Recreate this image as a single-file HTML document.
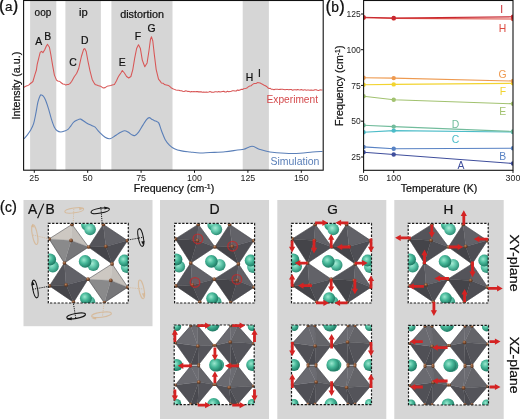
<!DOCTYPE html><html><head><meta charset="utf-8"><style>html,body{margin:0;padding:0;background:#fff;overflow:hidden;}svg{display:block;}text{font-family:"Liberation Sans",sans-serif;}.k{stroke:#111;stroke-width:0.22px;}</style></head><body>
<svg width="520" height="419" viewBox="0 0 520 419">
<defs>
<radialGradient id="cs" cx="0.4" cy="0.38" r="0.65"><stop offset="0" stop-color="#9be8cf"/><stop offset="0.45" stop-color="#48b99a"/><stop offset="1" stop-color="#1b7660"/></radialGradient>
<radialGradient id="cs2" cx="0.4" cy="0.38" r="0.65"><stop offset="0" stop-color="#a8ecd6"/><stop offset="0.5" stop-color="#5cc4a8"/><stop offset="1" stop-color="#2a8a72"/></radialGradient>
<radialGradient id="iat" cx="0.4" cy="0.35" r="0.7"><stop offset="0" stop-color="#c08a66"/><stop offset="0.5" stop-color="#7e4e30"/><stop offset="1" stop-color="#4a2a18"/></radialGradient>
<marker id="ah" viewBox="0 0 10 10" refX="3" refY="5" markerWidth="2.2" markerHeight="2.2" orient="auto-start-reverse"><path d="M0,0 L10,5 L0,10 z" fill="#d42020"/></marker>
</defs>
<rect x="30.1" y="0.5" width="26.2" height="169.7" fill="#d6d6d6"/>
<rect x="65.4" y="0.5" width="35.5" height="169.7" fill="#d6d6d6"/>
<rect x="111.4" y="0.5" width="61.1" height="169.7" fill="#d6d6d6"/>
<rect x="242.7" y="0.5" width="26.2" height="169.7" fill="#d6d6d6"/>
<path d="M24.00,87.30 L25.53,86.33 L27.07,85.87 L28.60,85.10 L30.03,83.78 L31.47,82.79 L32.90,81.50 L35.00,74.40 L36.40,70.00 L37.20,64.40 L39.30,55.80 L40.20,52.30 L41.50,51.30 L42.90,52.60 L44.60,50.00 L46.50,45.70 L47.60,44.20 L47.90,45.00 L49.40,47.20 L50.80,54.30 L52.70,65.80 L54.40,75.10 L56.50,80.10 L57.75,80.94 L59.00,81.16 L60.25,81.84 L61.50,83.00 L62.93,84.00 L64.37,84.18 L65.80,85.10 L67.25,84.51 L68.70,84.40 L70.15,83.40 L71.60,81.50 L73.00,78.97 L74.40,76.50 L76.60,73.50 L78.70,68.50 L79.30,65.80 L81.40,56.50 L83.60,49.30 L84.70,48.60 L86.20,51.50 L87.90,60.80 L90.00,70.80 L92.20,79.40 L93.65,82.20 L95.10,84.40 L96.53,84.88 L97.97,85.53 L99.40,85.90 L100.83,86.29 L102.27,87.42 L103.70,88.00 L105.13,87.63 L106.57,86.62 L108.00,85.90 L109.40,85.85 L110.80,85.52 L112.20,85.10 L114.40,84.40 L116.50,80.80 L117.95,77.56 L119.40,75.10 L120.85,73.03 L122.30,70.50 L124.40,73.00 L126.60,76.50 L128.70,78.00 L130.90,76.50 L132.80,69.60 L134.70,58.20 L136.60,48.60 L138.50,44.80 L140.40,48.60 L142.30,60.10 L143.55,63.53 L144.80,66.80 L147.10,62.90 L149.00,50.50 L150.50,39.10 L151.50,36.80 L152.80,41.00 L154.30,54.40 L156.20,69.60 L158.50,79.20 L159.95,80.92 L161.40,83.00 L163.00,83.21 L164.60,84.60 L166.20,84.90 L167.60,85.33 L169.00,85.80 L170.27,86.96 L171.53,88.07 L172.80,88.70 L174.40,89.39 L176.00,90.08 L177.60,90.20 L178.89,90.28 L180.18,90.82 L181.46,90.68 L182.75,91.29 L184.04,91.42 L185.32,90.89 L186.61,91.10 L187.90,91.60 L189.11,91.37 L190.32,92.06 L191.53,91.60 L192.74,91.79 L193.95,91.52 L195.16,91.73 L196.37,91.64 L197.58,91.63 L198.79,91.86 L200.00,91.80 L201.25,91.88 L202.50,92.16 L203.75,91.96 L205.00,92.19 L206.25,92.12 L207.50,92.24 L208.75,91.95 L210.00,91.50 L211.25,92.12 L212.50,92.22 L213.75,92.16 L215.00,91.80 L216.25,91.84 L217.50,91.94 L218.75,91.47 L220.00,92.00 L221.25,91.74 L222.50,91.46 L223.75,91.23 L225.00,91.92 L226.25,92.02 L227.50,91.18 L228.75,91.80 L230.00,91.50 L231.25,91.24 L232.50,90.84 L233.75,90.79 L235.00,91.04 L236.25,90.96 L237.50,90.04 L238.75,90.38 L240.00,90.10 L241.22,89.29 L242.45,89.50 L243.68,88.75 L244.90,88.50 L246.12,88.22 L247.35,87.68 L248.58,86.63 L249.80,86.00 L251.03,85.85 L252.25,84.63 L253.47,83.82 L254.70,83.60 L256.07,83.42 L257.43,82.64 L258.80,82.80 L260.17,83.06 L261.53,83.78 L262.90,84.40 L264.12,85.32 L265.35,85.74 L266.57,86.46 L267.80,87.70 L269.02,88.43 L270.25,88.33 L271.48,89.31 L272.70,89.30 L273.93,89.66 L275.15,89.19 L276.38,89.26 L277.60,89.32 L278.82,89.43 L280.05,89.39 L281.27,89.35 L282.50,89.30 L283.77,89.46 L285.03,89.81 L286.30,89.47 L287.57,89.46 L288.83,89.78 L290.10,89.40 L291.37,89.51 L292.63,90.17 L293.90,89.80 L295.12,89.84 L296.35,89.89 L297.57,89.44 L298.80,89.82 L300.02,90.00 L301.25,89.52 L302.48,90.08 L303.70,90.12 L304.93,89.63 L306.15,90.16 L307.38,90.04 L308.60,90.10 L309.86,90.26 L311.13,89.97 L312.39,90.29 L313.65,90.31 L314.92,89.67 L316.18,89.70 L317.45,90.26 L318.71,90.52 L319.97,89.88 L321.24,90.06 L322.50,90.10" fill="none" stroke="#d85656" stroke-width="1.05" stroke-linejoin="round"/>
<path d="M24.00,138.70 C24.53,138.10 26.08,136.53 27.20,135.10 C28.32,133.67 29.63,132.00 30.70,130.10 C31.77,128.20 32.75,126.43 33.60,123.70 C34.45,120.97 35.08,117.28 35.80,113.70 C36.52,110.12 37.18,105.20 37.90,102.20 C38.62,99.20 39.50,96.90 40.10,95.70 C40.70,94.50 40.92,94.87 41.50,95.00 C42.08,95.13 42.88,95.53 43.60,96.50 C44.32,97.47 44.95,98.65 45.80,100.80 C46.65,102.95 47.75,106.30 48.70,109.40 C49.65,112.50 50.55,116.42 51.50,119.40 C52.45,122.38 53.45,125.40 54.40,127.30 C55.35,129.20 56.13,130.02 57.20,130.80 C58.27,131.58 59.60,131.95 60.80,132.00 C62.00,132.05 63.20,131.53 64.40,131.10 C65.60,130.67 66.92,130.28 68.00,129.40 C69.08,128.52 69.95,127.00 70.90,125.80 C71.85,124.60 72.63,123.15 73.70,122.20 C74.77,121.25 76.13,120.62 77.30,120.10 C78.47,119.58 79.17,118.63 80.70,119.10 C82.23,119.57 84.58,121.78 86.50,122.90 C88.42,124.02 90.77,125.08 92.20,125.80 C93.63,126.52 93.90,126.13 95.10,127.20 C96.30,128.27 97.73,130.52 99.40,132.20 C101.07,133.88 103.32,136.22 105.10,137.30 C106.88,138.38 108.43,138.95 110.10,138.70 C111.77,138.45 113.43,136.83 115.10,135.80 C116.77,134.77 118.55,133.33 120.10,132.50 C121.65,131.67 123.08,130.88 124.40,130.80 C125.72,130.72 126.68,131.28 128.00,132.00 C129.32,132.72 131.13,134.53 132.30,135.10 C133.47,135.67 133.95,135.88 135.00,135.40 C136.05,134.92 137.28,133.92 138.60,132.20 C139.92,130.48 141.58,127.20 142.90,125.10 C144.22,123.00 145.43,120.85 146.50,119.60 C147.57,118.35 148.35,117.60 149.30,117.60 C150.25,117.60 151.12,119.02 152.20,119.60 C153.28,120.18 154.72,120.55 155.80,121.10 C156.88,121.65 157.75,121.28 158.70,122.90 C159.65,124.52 160.43,128.05 161.50,130.80 C162.57,133.55 163.78,137.02 165.10,139.40 C166.42,141.78 167.85,143.55 169.40,145.10 C170.95,146.65 172.37,147.73 174.40,148.70 C176.43,149.67 178.97,150.35 181.60,150.90 C184.23,151.45 187.13,151.65 190.20,152.00 C193.27,152.35 196.70,152.92 200.00,153.00 C203.30,153.08 205.83,152.70 210.00,152.50 C214.17,152.30 220.42,152.22 225.00,151.80 C229.58,151.38 234.37,150.42 237.50,150.00 C240.63,149.58 241.38,149.92 243.80,149.30 C246.22,148.68 249.30,146.27 252.00,146.30 C254.70,146.33 257.00,148.55 260.00,149.50 C263.00,150.45 265.83,151.37 270.00,152.00 C274.17,152.63 280.00,153.08 285.00,153.30 C290.00,153.52 295.42,153.52 300.00,153.30 C304.58,153.08 308.75,152.30 312.50,152.00 C316.25,151.70 320.83,151.58 322.50,151.50" fill="none" stroke="#5a7fb8" stroke-width="1.1" stroke-linejoin="round"/>
<rect x="23.60" y="0.50" width="299.60" height="169.70" fill="none" stroke="#111" stroke-width="1.1"/>
<line x1="34.3" y1="170.2" x2="34.3" y2="172.8" stroke="#111" stroke-width="1"/>
<text x="34.3" y="180.5" font-size="9.8" text-anchor="middle" textLength="9.86" lengthAdjust="spacingAndGlyphs" fill="#222">25</text>
<line x1="87.7" y1="170.2" x2="87.7" y2="172.8" stroke="#111" stroke-width="1"/>
<text x="87.7" y="180.5" font-size="9.8" text-anchor="middle" textLength="9.86" lengthAdjust="spacingAndGlyphs" fill="#222">50</text>
<line x1="141.1" y1="170.2" x2="141.1" y2="172.8" stroke="#111" stroke-width="1"/>
<text x="141.1" y="180.5" font-size="9.8" text-anchor="middle" textLength="9.86" lengthAdjust="spacingAndGlyphs" fill="#222">75</text>
<line x1="194.5" y1="170.2" x2="194.5" y2="172.8" stroke="#111" stroke-width="1"/>
<text x="194.5" y="180.5" font-size="9.8" text-anchor="middle" textLength="14.79" lengthAdjust="spacingAndGlyphs" fill="#222">100</text>
<line x1="247.9" y1="170.2" x2="247.9" y2="172.8" stroke="#111" stroke-width="1"/>
<text x="247.9" y="180.5" font-size="9.8" text-anchor="middle" textLength="14.79" lengthAdjust="spacingAndGlyphs" fill="#222">125</text>
<line x1="301.3" y1="170.2" x2="301.3" y2="172.8" stroke="#111" stroke-width="1"/>
<text x="301.3" y="180.5" font-size="9.8" text-anchor="middle" textLength="14.79" lengthAdjust="spacingAndGlyphs" fill="#222">150</text>
<text x="133.8" y="192.3" font-size="10.6" fill="#111" class="k">Frequency (cm<tspan dy="-3.8" font-size="7">-1</tspan><tspan dy="3.8">)</tspan></text>
<text transform="translate(19.6,119.4) rotate(-90)" font-size="10.2" textLength="67.6" lengthAdjust="spacingAndGlyphs" fill="#111" class="k">Intensity (a.u.)</text>
<text x="-0.9" y="11.4" font-size="13.4" fill="#111" class="k"><tspan font-size="17.5">(</tspan>a<tspan font-size="17.5">)</tspan></text>
<text x="34.6" y="15.6" font-size="10.8" textLength="16.7" lengthAdjust="spacingAndGlyphs" fill="#111" class="k">oop</text>
<text x="79.0" y="16.4" font-size="10.8" textLength="8.7" lengthAdjust="spacingAndGlyphs" fill="#111" class="k">ip</text>
<text x="120.2" y="18.0" font-size="10.8" textLength="43.8" lengthAdjust="spacingAndGlyphs" fill="#111" class="k">distortion</text>
<text x="38.6" y="44.8" font-size="10.4" text-anchor="middle" fill="#111" class="k">A</text>
<text x="47.8" y="39.5" font-size="10.4" text-anchor="middle" fill="#111" class="k">B</text>
<text x="73.1" y="65.5" font-size="10.4" text-anchor="middle" fill="#111" class="k">C</text>
<text x="84.7" y="43.8" font-size="10.4" text-anchor="middle" fill="#111" class="k">D</text>
<text x="122.3" y="65.8" font-size="10.4" text-anchor="middle" fill="#111" class="k">E</text>
<text x="138.0" y="40.0" font-size="10.4" text-anchor="middle" fill="#111" class="k">F</text>
<text x="151.6" y="32.4" font-size="10.4" text-anchor="middle" fill="#111" class="k">G</text>
<text x="249.5" y="80.9" font-size="10.4" text-anchor="middle" fill="#111" class="k">H</text>
<text x="259.4" y="77.2" font-size="10.4" text-anchor="middle" fill="#111" class="k">I</text>
<text x="266.6" y="103.2" font-size="10.4" textLength="51.4" lengthAdjust="spacingAndGlyphs" fill="#d44a4c">Experiment</text>
<text x="270.4" y="164.8" font-size="10.4" textLength="49" lengthAdjust="spacingAndGlyphs" fill="#5a7fb8">Simulation</text>
<clipPath id="bclip"><rect x="363.60" y="0.50" width="149.40" height="169.80"/></clipPath><g clip-path="url(#bclip)">
<path d="M363.60,152.30 L393.70,154.50 L513.00,163.50" fill="none" stroke="#3f4e9c" stroke-width="1.1"/>
<circle cx="363.6" cy="152.3" r="2.2" fill="#3f4e9c"/>
<circle cx="393.7" cy="154.5" r="2.2" fill="#3f4e9c"/>
<circle cx="513.0" cy="163.5" r="2.2" fill="#3f4e9c"/>
<path d="M363.60,146.90 L393.70,148.80 L513.00,148.30" fill="none" stroke="#5882c4" stroke-width="1.1"/>
<circle cx="363.6" cy="146.9" r="2.2" fill="#5882c4"/>
<circle cx="393.7" cy="148.8" r="2.2" fill="#5882c4"/>
<circle cx="513.0" cy="148.3" r="2.2" fill="#5882c4"/>
<path d="M363.60,132.20 L393.70,130.60 L513.00,132.00" fill="none" stroke="#4cbcc8" stroke-width="1.1"/>
<circle cx="363.6" cy="132.2" r="2.2" fill="#4cbcc8"/>
<circle cx="393.7" cy="130.6" r="2.2" fill="#4cbcc8"/>
<circle cx="513.0" cy="132.0" r="2.2" fill="#4cbcc8"/>
<path d="M363.60,125.20 L393.70,126.60 L513.00,131.50" fill="none" stroke="#72bc9c" stroke-width="1.1"/>
<circle cx="363.6" cy="125.2" r="2.2" fill="#72bc9c"/>
<circle cx="393.7" cy="126.6" r="2.2" fill="#72bc9c"/>
<circle cx="513.0" cy="131.5" r="2.2" fill="#72bc9c"/>
<path d="M363.60,96.30 L393.70,99.70 L513.00,103.80" fill="none" stroke="#a2c270" stroke-width="1.1"/>
<circle cx="363.6" cy="96.3" r="2.2" fill="#a2c270"/>
<circle cx="393.7" cy="99.7" r="2.2" fill="#a2c270"/>
<circle cx="513.0" cy="103.8" r="2.2" fill="#a2c270"/>
<path d="M363.60,84.80 L393.70,84.40 L513.00,83.30" fill="none" stroke="#f2d430" stroke-width="1.1"/>
<circle cx="363.6" cy="84.8" r="2.2" fill="#f2d430"/>
<circle cx="393.7" cy="84.4" r="2.2" fill="#f2d430"/>
<circle cx="513.0" cy="83.3" r="2.2" fill="#f2d430"/>
<path d="M363.60,77.70 L393.70,78.10 L513.00,81.00" fill="none" stroke="#ee9a50" stroke-width="1.1"/>
<circle cx="363.6" cy="77.7" r="2.2" fill="#ee9a50"/>
<circle cx="393.7" cy="78.1" r="2.2" fill="#ee9a50"/>
<circle cx="513.0" cy="81.0" r="2.2" fill="#ee9a50"/>
<path d="M363.60,17.80 L393.70,18.40 L513.00,19.00" fill="none" stroke="#dc4a40" stroke-width="1.1"/>
<circle cx="363.6" cy="17.8" r="2.2" fill="#dc4a40"/>
<circle cx="393.7" cy="18.4" r="2.2" fill="#dc4a40"/>
<circle cx="513.0" cy="19.0" r="2.2" fill="#dc4a40"/>
<path d="M363.60,17.20 L393.70,18.00 L513.00,16.80" fill="none" stroke="#c82830" stroke-width="1.1"/>
<circle cx="363.6" cy="17.2" r="2.2" fill="#c82830"/>
<circle cx="393.7" cy="18.0" r="2.2" fill="#c82830"/>
<circle cx="513.0" cy="16.8" r="2.2" fill="#c82830"/>
</g>
<rect x="363.60" y="0.50" width="149.40" height="169.80" fill="none" stroke="#111" stroke-width="1.1"/>
<line x1="361.0" y1="14.0" x2="363.6" y2="14.0" stroke="#111" stroke-width="1"/>
<text x="360.7" y="17.2" font-size="9.8" text-anchor="end" textLength="14.22" lengthAdjust="spacingAndGlyphs" fill="#222">125</text>
<line x1="361.0" y1="49.7" x2="363.6" y2="49.7" stroke="#111" stroke-width="1"/>
<text x="360.7" y="52.9" font-size="9.8" text-anchor="end" textLength="14.22" lengthAdjust="spacingAndGlyphs" fill="#222">100</text>
<line x1="361.0" y1="85.4" x2="363.6" y2="85.4" stroke="#111" stroke-width="1"/>
<text x="360.7" y="88.6" font-size="9.8" text-anchor="end" textLength="9.48" lengthAdjust="spacingAndGlyphs" fill="#222">75</text>
<line x1="361.0" y1="121.2" x2="363.6" y2="121.2" stroke="#111" stroke-width="1"/>
<text x="360.7" y="124.4" font-size="9.8" text-anchor="end" textLength="9.48" lengthAdjust="spacingAndGlyphs" fill="#222">50</text>
<line x1="361.0" y1="157.0" x2="363.6" y2="157.0" stroke="#111" stroke-width="1"/>
<text x="360.7" y="160.2" font-size="9.8" text-anchor="end" textLength="9.48" lengthAdjust="spacingAndGlyphs" fill="#222">25</text>
<line x1="363.6" y1="170.3" x2="363.6" y2="172.9" stroke="#111" stroke-width="1"/>
<text x="363.6" y="180.5" font-size="9.8" text-anchor="middle" textLength="9.86" lengthAdjust="spacingAndGlyphs" fill="#222">50</text>
<line x1="393.7" y1="170.3" x2="393.7" y2="172.9" stroke="#111" stroke-width="1"/>
<text x="393.7" y="180.5" font-size="9.8" text-anchor="middle" textLength="14.79" lengthAdjust="spacingAndGlyphs" fill="#222">100</text>
<line x1="513.0" y1="170.3" x2="513.0" y2="172.9" stroke="#111" stroke-width="1"/>
<text x="513.0" y="180.5" font-size="9.8" text-anchor="middle" textLength="14.79" lengthAdjust="spacingAndGlyphs" fill="#222">300</text>
<text x="400.7" y="192.3" font-size="10.8" textLength="76.7" lengthAdjust="spacingAndGlyphs" fill="#111" class="k">Temperature (K)</text>
<text transform="translate(343.4,125.9) rotate(-90)" font-size="10.6" fill="#111" class="k">Frequency (cm<tspan dy="-3.8" font-size="7">-1</tspan><tspan dy="3.8">)</tspan></text>
<text x="325.4" y="11.7" font-size="13.8" fill="#111" class="k"><tspan font-size="17.5">(</tspan>b<tspan font-size="17.5">)</tspan></text>
<text x="501.7" y="13.3" font-size="10.4" text-anchor="middle" fill="#c82830">I</text>
<text x="502.6" y="31.7" font-size="10.4" text-anchor="middle" fill="#dc4a40">H</text>
<text x="502.6" y="78.4" font-size="10.4" text-anchor="middle" fill="#ee9a50">G</text>
<text x="503.0" y="95.2" font-size="10.4" text-anchor="middle" fill="#f2d430">F</text>
<text x="502.6" y="114.7" font-size="10.4" text-anchor="middle" fill="#a2c270">E</text>
<text x="455.5" y="128.3" font-size="10.4" text-anchor="middle" fill="#72bc9c">D</text>
<text x="455.5" y="142.6" font-size="10.4" text-anchor="middle" fill="#4cbcc8">C</text>
<text x="502.6" y="160.0" font-size="10.4" text-anchor="middle" fill="#5882c4">B</text>
<text x="461.0" y="168.7" font-size="10.4" text-anchor="middle" fill="#3f4e9c">A</text>
<text x="-0.3" y="211.7" font-size="13.8" fill="#111" class="k"><tspan font-size="15.6">(</tspan>c<tspan font-size="15.6">)</tspan></text>
<rect x="23.5" y="200.0" width="129.0" height="126.2" fill="#d6d6d6"/>
<rect x="160.0" y="200.0" width="109.0" height="219.0" fill="#d6d6d6"/>
<rect x="277.3" y="200.0" width="109.0" height="219.0" fill="#d6d6d6"/>
<rect x="394.3" y="200.0" width="109.4" height="219.0" fill="#d6d6d6"/>
<text x="28.1" y="213.5" font-size="13.8" fill="#111" class="k">A</text><line x1="43.8" y1="203.6" x2="37.6" y2="218.2" stroke="#111" stroke-width="1.15"/><text x="45.4" y="213.5" font-size="13.8" fill="#111" class="k">B</text>
<text x="214.6" y="213.9" font-size="14" text-anchor="middle" fill="#111" class="k">D</text>
<text x="332.5" y="213.9" font-size="13.6" text-anchor="middle" fill="#111" class="k">G</text>
<text x="448.3" y="214.3" font-size="13.6" text-anchor="middle" fill="#111" class="k">H</text>
<text transform="translate(509.6,234.4) rotate(90)" font-size="13.4" textLength="57.2" lengthAdjust="spacingAndGlyphs" fill="#111" class="k">XY-plane</text>
<text transform="translate(509.6,336.7) rotate(90)" font-size="13.4" textLength="56.8" lengthAdjust="spacingAndGlyphs" fill="#111" class="k">XZ-plane</text>
<ellipse cx="74.2" cy="210.4" rx="9.5" ry="2.4" transform="rotate(-8.0 74.2 210.4)" fill="none" stroke="#d6b48e" stroke-width="1.05" opacity="0.80"/><polygon points="79.0,207.6 83.5,208.4 79.5,210.2" fill="#d6b48e" opacity="0.80"/><line x1="73.8" y1="209.0" x2="73.2" y2="223.5" stroke="#d6b48e" stroke-width="1" stroke-dasharray="1.2 1" opacity="0.70"/><ellipse cx="34.8" cy="234.6" rx="2.5" ry="10.0" transform="rotate(-11.0 34.8 234.6)" fill="none" stroke="#d6b48e" stroke-width="1.05" opacity="0.80"/><polygon points="31.5,227.0 32.5,223.8 34.5,227.5" fill="#d6b48e" opacity="0.80"/><line x1="33.0" y1="235.0" x2="48.5" y2="238.8" stroke="#d6b48e" stroke-width="1" stroke-dasharray="1.2 1" opacity="0.70"/><ellipse cx="100.2" cy="210.7" rx="9.3" ry="2.4" transform="rotate(-10.0 100.2 210.7)" fill="none" stroke="#151515" stroke-width="1.05" opacity="1.00"/><polygon points="104.2,206.4 108.8,207.9 104.6,209.6" fill="#151515" opacity="1.00"/><line x1="100.8" y1="207.0" x2="102.3" y2="224.6" stroke="#151515" stroke-width="1" stroke-dasharray="1.2 1" opacity="1.00"/><ellipse cx="140.8" cy="237.5" rx="2.5" ry="9.0" transform="rotate(-11.0 140.8 237.5)" fill="none" stroke="#151515" stroke-width="1.05" opacity="1.00"/><polygon points="141.2,241.5 144.6,241.0 143.4,245.6" fill="#151515" opacity="1.00"/><line x1="128.0" y1="240.0" x2="143.7" y2="237.2" stroke="#151515" stroke-width="1" stroke-dasharray="1.2 1" opacity="1.00"/><ellipse cx="35.2" cy="289.0" rx="2.4" ry="9.0" transform="rotate(-11.0 35.2 289.0)" fill="none" stroke="#151515" stroke-width="1.05" opacity="1.00"/><polygon points="31.2,285.5 32.2,280.6 34.7,284.8" fill="#151515" opacity="1.00"/><line x1="32.8" y1="289.3" x2="48.0" y2="286.5" stroke="#151515" stroke-width="1" stroke-dasharray="1.2 1" opacity="1.00"/><ellipse cx="76.1" cy="315.9" rx="9.5" ry="2.5" transform="rotate(-10.0 76.1 315.9)" fill="none" stroke="#151515" stroke-width="1.05" opacity="1.00"/><polygon points="71.8,317.0 66.8,319.3 71.6,320.3" fill="#151515" opacity="1.00"/><line x1="73.5" y1="303.8" x2="75.8" y2="318.5" stroke="#151515" stroke-width="1" stroke-dasharray="1.2 1" opacity="1.00"/><ellipse cx="101.5" cy="314.8" rx="10.0" ry="2.5" transform="rotate(-8.0 101.5 314.8)" fill="none" stroke="#d6b48e" stroke-width="1.05" opacity="0.80"/><polygon points="96.0,317.3 91.6,318.8 96.2,319.6" fill="#d6b48e" opacity="0.80"/><line x1="104.0" y1="303.5" x2="102.5" y2="316.0" stroke="#d6b48e" stroke-width="1" stroke-dasharray="1.2 1" opacity="0.70"/><ellipse cx="141.5" cy="289.4" rx="2.5" ry="9.5" transform="rotate(-11.0 141.5 289.4)" fill="none" stroke="#d6b48e" stroke-width="1.05" opacity="0.80"/><polygon points="141.8,293.5 145.0,293.0 143.8,297.5" fill="#d6b48e" opacity="0.80"/><line x1="128.0" y1="287.5" x2="143.0" y2="289.0" stroke="#d6b48e" stroke-width="1" stroke-dasharray="1.2 1" opacity="0.70"/>
<g transform="translate(48.30,223.40)"><clipPath id="clip1"><rect x="0" y="0" width="80" height="79.6"/></clipPath><rect x="0" y="0" width="80" height="79.6" fill="#fff"/><g clip-path="url(#clip1)"><circle cx="45.00" cy="41.50" r="6.00" fill="url(#cs2)"/><circle cx="36.80" cy="38.00" r="6.30" fill="url(#cs)"/><circle cx="38.60" cy="1.60" r="5.80" fill="url(#cs)"/><circle cx="41.80" cy="6.00" r="5.80" fill="url(#cs2)"/><circle cx="78.50" cy="43.50" r="6.00" fill="url(#cs2)"/><circle cx="76.10" cy="37.20" r="6.00" fill="url(#cs)"/><circle cx="4.50" cy="43.00" r="6.00" fill="url(#cs2)"/><circle cx="1.80" cy="36.00" r="6.00" fill="url(#cs)"/><circle cx="41.00" cy="78.50" r="6.00" fill="url(#cs2)"/><circle cx="37.60" cy="74.80" r="6.00" fill="url(#cs)"/><polygon points="0.80,15.50 23.70,1.00 22.80,17.00" fill="#cdc8c2" stroke="#cdc8c2" stroke-width="0.3" stroke-linejoin="round"/><polygon points="23.70,1.00 40.30,23.60 22.80,17.00" fill="#c3bfba" stroke="#c3bfba" stroke-width="0.3" stroke-linejoin="round"/><polygon points="40.30,23.60 16.10,39.60 22.80,17.00" fill="#767679" stroke="#767679" stroke-width="0.3" stroke-linejoin="round"/><polygon points="16.10,39.60 0.80,15.50 22.80,17.00" fill="#8a8a8b" stroke="#8a8a8b" stroke-width="0.3" stroke-linejoin="round"/><polygon points="23.70,1.00 40.30,23.60 16.10,39.60 0.80,15.50" fill="none" stroke="#3c3c40" stroke-width="0.5"/><polygon points="40.30,23.60 55.00,1.00 57.50,23.00" fill="#54545a" stroke="#54545a" stroke-width="0.3" stroke-linejoin="round"/><polygon points="55.00,1.00 79.20,17.20 57.50,23.00" fill="#626268" stroke="#626268" stroke-width="0.3" stroke-linejoin="round"/><polygon points="79.20,17.20 63.80,40.50 57.50,23.00" fill="#4e4e54" stroke="#4e4e54" stroke-width="0.3" stroke-linejoin="round"/><polygon points="63.80,40.50 40.30,23.60 57.50,23.00" fill="#444449" stroke="#444449" stroke-width="0.3" stroke-linejoin="round"/><polygon points="55.00,1.00 79.20,17.20 63.80,40.50 40.30,23.60" fill="none" stroke="#3c3c40" stroke-width="0.5"/><polygon points="1.20,62.50 16.10,39.60 17.80,61.50" fill="#54545a" stroke="#54545a" stroke-width="0.3" stroke-linejoin="round"/><polygon points="16.10,39.60 39.70,55.80 17.80,61.50" fill="#626268" stroke="#626268" stroke-width="0.3" stroke-linejoin="round"/><polygon points="39.70,55.80 25.20,78.80 17.80,61.50" fill="#4e4e54" stroke="#4e4e54" stroke-width="0.3" stroke-linejoin="round"/><polygon points="25.20,78.80 1.20,62.50 17.80,61.50" fill="#444449" stroke="#444449" stroke-width="0.3" stroke-linejoin="round"/><polygon points="16.10,39.60 39.70,55.80 25.20,78.80 1.20,62.50" fill="none" stroke="#3c3c40" stroke-width="0.5"/><polygon points="39.70,55.80 63.80,40.50 62.50,57.00" fill="#cdc8c2" stroke="#cdc8c2" stroke-width="0.3" stroke-linejoin="round"/><polygon points="63.80,40.50 79.50,63.80 62.50,57.00" fill="#c3bfba" stroke="#c3bfba" stroke-width="0.3" stroke-linejoin="round"/><polygon points="79.50,63.80 56.00,79.30 62.50,57.00" fill="#767679" stroke="#767679" stroke-width="0.3" stroke-linejoin="round"/><polygon points="56.00,79.30 39.70,55.80 62.50,57.00" fill="#8a8a8b" stroke="#8a8a8b" stroke-width="0.3" stroke-linejoin="round"/><polygon points="63.80,40.50 79.50,63.80 56.00,79.30 39.70,55.80" fill="none" stroke="#3c3c40" stroke-width="0.5"/><circle cx="23.70" cy="1.00" r="1.85" fill="url(#iat)"/><circle cx="40.30" cy="23.60" r="1.85" fill="url(#iat)"/><circle cx="16.10" cy="39.60" r="1.85" fill="url(#iat)"/><circle cx="0.80" cy="15.50" r="1.85" fill="url(#iat)"/><circle cx="22.80" cy="17.00" r="1.85" fill="url(#iat)"/><circle cx="55.00" cy="1.00" r="1.85" fill="url(#iat)"/><circle cx="79.20" cy="17.20" r="1.85" fill="url(#iat)"/><circle cx="63.80" cy="40.50" r="1.85" fill="url(#iat)"/><circle cx="57.50" cy="23.00" r="1.85" fill="url(#iat)"/><circle cx="39.70" cy="55.80" r="1.85" fill="url(#iat)"/><circle cx="25.20" cy="78.80" r="1.85" fill="url(#iat)"/><circle cx="1.20" cy="62.50" r="1.85" fill="url(#iat)"/><circle cx="17.80" cy="61.50" r="1.85" fill="url(#iat)"/><circle cx="79.50" cy="63.80" r="1.85" fill="url(#iat)"/><circle cx="56.00" cy="79.30" r="1.85" fill="url(#iat)"/><circle cx="62.50" cy="57.00" r="1.85" fill="url(#iat)"/></g><rect x="0" y="0" width="80" height="79.6" fill="none" stroke="#1a1a1a" stroke-width="1.2" stroke-dasharray="2.3 1.5"/></g>
<g transform="translate(174.60,223.40)"><clipPath id="clip2"><rect x="0" y="0" width="80" height="79.6"/></clipPath><rect x="0" y="0" width="80" height="79.6" fill="#fff"/><g clip-path="url(#clip2)"><circle cx="45.00" cy="41.50" r="6.00" fill="url(#cs2)"/><circle cx="36.80" cy="38.00" r="6.30" fill="url(#cs)"/><circle cx="38.60" cy="1.60" r="5.80" fill="url(#cs)"/><circle cx="41.80" cy="6.00" r="5.80" fill="url(#cs2)"/><circle cx="78.50" cy="43.50" r="6.00" fill="url(#cs2)"/><circle cx="76.10" cy="37.20" r="6.00" fill="url(#cs)"/><circle cx="4.50" cy="43.00" r="6.00" fill="url(#cs2)"/><circle cx="1.80" cy="36.00" r="6.00" fill="url(#cs)"/><circle cx="41.00" cy="78.50" r="6.00" fill="url(#cs2)"/><circle cx="37.60" cy="74.80" r="6.00" fill="url(#cs)"/><polygon points="0.80,15.50 23.70,1.00 22.80,17.00" fill="#54545a" stroke="#54545a" stroke-width="0.3" stroke-linejoin="round"/><polygon points="23.70,1.00 40.30,23.60 22.80,17.00" fill="#626268" stroke="#626268" stroke-width="0.3" stroke-linejoin="round"/><polygon points="40.30,23.60 16.10,39.60 22.80,17.00" fill="#4e4e54" stroke="#4e4e54" stroke-width="0.3" stroke-linejoin="round"/><polygon points="16.10,39.60 0.80,15.50 22.80,17.00" fill="#444449" stroke="#444449" stroke-width="0.3" stroke-linejoin="round"/><polygon points="23.70,1.00 40.30,23.60 16.10,39.60 0.80,15.50" fill="none" stroke="#3c3c40" stroke-width="0.5"/><polygon points="40.30,23.60 55.00,1.00 57.50,23.00" fill="#54545a" stroke="#54545a" stroke-width="0.3" stroke-linejoin="round"/><polygon points="55.00,1.00 79.20,17.20 57.50,23.00" fill="#626268" stroke="#626268" stroke-width="0.3" stroke-linejoin="round"/><polygon points="79.20,17.20 63.80,40.50 57.50,23.00" fill="#4e4e54" stroke="#4e4e54" stroke-width="0.3" stroke-linejoin="round"/><polygon points="63.80,40.50 40.30,23.60 57.50,23.00" fill="#444449" stroke="#444449" stroke-width="0.3" stroke-linejoin="round"/><polygon points="55.00,1.00 79.20,17.20 63.80,40.50 40.30,23.60" fill="none" stroke="#3c3c40" stroke-width="0.5"/><polygon points="1.20,62.50 16.10,39.60 17.80,61.50" fill="#54545a" stroke="#54545a" stroke-width="0.3" stroke-linejoin="round"/><polygon points="16.10,39.60 39.70,55.80 17.80,61.50" fill="#626268" stroke="#626268" stroke-width="0.3" stroke-linejoin="round"/><polygon points="39.70,55.80 25.20,78.80 17.80,61.50" fill="#4e4e54" stroke="#4e4e54" stroke-width="0.3" stroke-linejoin="round"/><polygon points="25.20,78.80 1.20,62.50 17.80,61.50" fill="#444449" stroke="#444449" stroke-width="0.3" stroke-linejoin="round"/><polygon points="16.10,39.60 39.70,55.80 25.20,78.80 1.20,62.50" fill="none" stroke="#3c3c40" stroke-width="0.5"/><polygon points="39.70,55.80 63.80,40.50 62.50,57.00" fill="#54545a" stroke="#54545a" stroke-width="0.3" stroke-linejoin="round"/><polygon points="63.80,40.50 79.50,63.80 62.50,57.00" fill="#626268" stroke="#626268" stroke-width="0.3" stroke-linejoin="round"/><polygon points="79.50,63.80 56.00,79.30 62.50,57.00" fill="#4e4e54" stroke="#4e4e54" stroke-width="0.3" stroke-linejoin="round"/><polygon points="56.00,79.30 39.70,55.80 62.50,57.00" fill="#444449" stroke="#444449" stroke-width="0.3" stroke-linejoin="round"/><polygon points="63.80,40.50 79.50,63.80 56.00,79.30 39.70,55.80" fill="none" stroke="#3c3c40" stroke-width="0.5"/><circle cx="23.70" cy="1.00" r="1.85" fill="url(#iat)"/><circle cx="40.30" cy="23.60" r="1.85" fill="url(#iat)"/><circle cx="16.10" cy="39.60" r="1.85" fill="url(#iat)"/><circle cx="0.80" cy="15.50" r="1.85" fill="url(#iat)"/><circle cx="22.80" cy="17.00" r="1.85" fill="url(#iat)"/><circle cx="55.00" cy="1.00" r="1.85" fill="url(#iat)"/><circle cx="79.20" cy="17.20" r="1.85" fill="url(#iat)"/><circle cx="63.80" cy="40.50" r="1.85" fill="url(#iat)"/><circle cx="57.50" cy="23.00" r="1.85" fill="url(#iat)"/><circle cx="39.70" cy="55.80" r="1.85" fill="url(#iat)"/><circle cx="25.20" cy="78.80" r="1.85" fill="url(#iat)"/><circle cx="1.20" cy="62.50" r="1.85" fill="url(#iat)"/><circle cx="17.80" cy="61.50" r="1.85" fill="url(#iat)"/><circle cx="79.50" cy="63.80" r="1.85" fill="url(#iat)"/><circle cx="56.00" cy="79.30" r="1.85" fill="url(#iat)"/><circle cx="62.50" cy="57.00" r="1.85" fill="url(#iat)"/><circle cx="23.30" cy="15.50" r="4.80" fill="#d42323" fill-opacity="0.12" stroke="#d42323" stroke-width="1.4" opacity="0.7"/><circle cx="58.00" cy="22.80" r="4.80" fill="#d42323" fill-opacity="0.12" stroke="#d42323" stroke-width="1.4" opacity="0.7"/><circle cx="20.40" cy="59.00" r="4.80" fill="#d42323" fill-opacity="0.12" stroke="#d42323" stroke-width="1.4" opacity="0.7"/><circle cx="62.30" cy="56.00" r="4.80" fill="#d42323" fill-opacity="0.12" stroke="#d42323" stroke-width="1.4" opacity="0.7"/></g><rect x="0" y="0" width="80" height="79.6" fill="none" stroke="#1a1a1a" stroke-width="1.2" stroke-dasharray="2.3 1.5"/></g>
<g transform="translate(291.50,223.40)"><clipPath id="clip3"><rect x="0" y="0" width="80" height="79.6"/></clipPath><rect x="0" y="0" width="80" height="79.6" fill="#fff"/><g clip-path="url(#clip3)"><circle cx="45.00" cy="41.50" r="6.00" fill="url(#cs2)"/><circle cx="36.80" cy="38.00" r="6.30" fill="url(#cs)"/><circle cx="38.60" cy="1.60" r="5.80" fill="url(#cs)"/><circle cx="41.80" cy="6.00" r="5.80" fill="url(#cs2)"/><circle cx="78.50" cy="43.50" r="6.00" fill="url(#cs2)"/><circle cx="76.10" cy="37.20" r="6.00" fill="url(#cs)"/><circle cx="4.50" cy="43.00" r="6.00" fill="url(#cs2)"/><circle cx="1.80" cy="36.00" r="6.00" fill="url(#cs)"/><circle cx="41.00" cy="78.50" r="6.00" fill="url(#cs2)"/><circle cx="37.60" cy="74.80" r="6.00" fill="url(#cs)"/><polygon points="0.80,15.50 23.70,1.00 22.80,17.00" fill="#54545a" stroke="#54545a" stroke-width="0.3" stroke-linejoin="round"/><polygon points="23.70,1.00 40.30,23.60 22.80,17.00" fill="#626268" stroke="#626268" stroke-width="0.3" stroke-linejoin="round"/><polygon points="40.30,23.60 16.10,39.60 22.80,17.00" fill="#4e4e54" stroke="#4e4e54" stroke-width="0.3" stroke-linejoin="round"/><polygon points="16.10,39.60 0.80,15.50 22.80,17.00" fill="#444449" stroke="#444449" stroke-width="0.3" stroke-linejoin="round"/><polygon points="23.70,1.00 40.30,23.60 16.10,39.60 0.80,15.50" fill="none" stroke="#3c3c40" stroke-width="0.5"/><polygon points="40.30,23.60 55.00,1.00 57.50,23.00" fill="#54545a" stroke="#54545a" stroke-width="0.3" stroke-linejoin="round"/><polygon points="55.00,1.00 79.20,17.20 57.50,23.00" fill="#626268" stroke="#626268" stroke-width="0.3" stroke-linejoin="round"/><polygon points="79.20,17.20 63.80,40.50 57.50,23.00" fill="#4e4e54" stroke="#4e4e54" stroke-width="0.3" stroke-linejoin="round"/><polygon points="63.80,40.50 40.30,23.60 57.50,23.00" fill="#444449" stroke="#444449" stroke-width="0.3" stroke-linejoin="round"/><polygon points="55.00,1.00 79.20,17.20 63.80,40.50 40.30,23.60" fill="none" stroke="#3c3c40" stroke-width="0.5"/><polygon points="1.20,62.50 16.10,39.60 17.80,61.50" fill="#54545a" stroke="#54545a" stroke-width="0.3" stroke-linejoin="round"/><polygon points="16.10,39.60 39.70,55.80 17.80,61.50" fill="#626268" stroke="#626268" stroke-width="0.3" stroke-linejoin="round"/><polygon points="39.70,55.80 25.20,78.80 17.80,61.50" fill="#4e4e54" stroke="#4e4e54" stroke-width="0.3" stroke-linejoin="round"/><polygon points="25.20,78.80 1.20,62.50 17.80,61.50" fill="#444449" stroke="#444449" stroke-width="0.3" stroke-linejoin="round"/><polygon points="16.10,39.60 39.70,55.80 25.20,78.80 1.20,62.50" fill="none" stroke="#3c3c40" stroke-width="0.5"/><polygon points="39.70,55.80 63.80,40.50 62.50,57.00" fill="#54545a" stroke="#54545a" stroke-width="0.3" stroke-linejoin="round"/><polygon points="63.80,40.50 79.50,63.80 62.50,57.00" fill="#626268" stroke="#626268" stroke-width="0.3" stroke-linejoin="round"/><polygon points="79.50,63.80 56.00,79.30 62.50,57.00" fill="#4e4e54" stroke="#4e4e54" stroke-width="0.3" stroke-linejoin="round"/><polygon points="56.00,79.30 39.70,55.80 62.50,57.00" fill="#444449" stroke="#444449" stroke-width="0.3" stroke-linejoin="round"/><polygon points="63.80,40.50 79.50,63.80 56.00,79.30 39.70,55.80" fill="none" stroke="#3c3c40" stroke-width="0.5"/><circle cx="23.70" cy="1.00" r="1.85" fill="url(#iat)"/><circle cx="40.30" cy="23.60" r="1.85" fill="url(#iat)"/><circle cx="16.10" cy="39.60" r="1.85" fill="url(#iat)"/><circle cx="0.80" cy="15.50" r="1.85" fill="url(#iat)"/><circle cx="22.80" cy="17.00" r="1.85" fill="url(#iat)"/><circle cx="55.00" cy="1.00" r="1.85" fill="url(#iat)"/><circle cx="79.20" cy="17.20" r="1.85" fill="url(#iat)"/><circle cx="63.80" cy="40.50" r="1.85" fill="url(#iat)"/><circle cx="57.50" cy="23.00" r="1.85" fill="url(#iat)"/><circle cx="39.70" cy="55.80" r="1.85" fill="url(#iat)"/><circle cx="25.20" cy="78.80" r="1.85" fill="url(#iat)"/><circle cx="1.20" cy="62.50" r="1.85" fill="url(#iat)"/><circle cx="17.80" cy="61.50" r="1.85" fill="url(#iat)"/><circle cx="79.50" cy="63.80" r="1.85" fill="url(#iat)"/><circle cx="56.00" cy="79.30" r="1.85" fill="url(#iat)"/><circle cx="62.50" cy="57.00" r="1.85" fill="url(#iat)"/></g><rect x="0" y="0" width="80" height="79.6" fill="none" stroke="#1a1a1a" stroke-width="1.2" stroke-dasharray="2.3 1.5"/><polygon points="23.60,0.80 30.90,0.80 30.90,2.50 36.50,-0.60 30.90,-3.70 30.90,-2.00 23.60,-2.00" fill="#d42323"/><polygon points="56.90,-2.00 49.60,-2.00 49.60,-3.70 44.00,-0.60 49.60,2.50 49.60,0.80 56.90,0.80" fill="#d42323"/><polygon points="41.10,24.70 41.10,16.30 42.80,16.30 39.70,10.70 36.60,16.30 38.30,16.30 38.30,24.70" fill="#d42323"/><polygon points="21.10,16.10 21.10,24.40 19.40,24.40 22.50,30.00 25.60,24.40 23.90,24.40 23.90,16.10" fill="#d42323"/><polygon points="59.00,22.20 50.70,22.20 50.70,20.50 45.10,23.60 50.70,26.70 50.70,25.00 59.00,25.00" fill="#d42323"/><polygon points="-0.80,17.20 -0.80,23.40 -2.50,23.40 0.60,29.00 3.70,23.40 2.00,23.40 2.00,17.20" fill="#d42323"/><polygon points="78.10,15.00 78.10,23.40 76.40,23.40 79.50,29.00 82.60,23.40 80.90,23.40 80.90,15.00" fill="#d42323"/><polygon points="16.10,38.30 8.80,38.30 8.80,36.60 3.20,39.70 8.80,42.80 8.80,41.10 16.10,41.10" fill="#d42323"/><polygon points="63.40,41.10 70.60,41.10 70.60,42.80 76.20,39.70 70.60,36.60 70.60,38.30 63.40,38.30" fill="#d42323"/><polygon points="2.00,63.40 2.00,56.10 3.70,56.10 0.60,50.50 -2.50,56.10 -0.80,56.10 -0.80,63.40" fill="#d42323"/><polygon points="80.90,65.00 80.90,57.60 82.60,57.60 79.50,52.00 76.40,57.60 78.10,57.60 78.10,65.00" fill="#d42323"/><polygon points="20.40,60.90 12.00,60.90 12.00,59.20 6.40,62.30 12.00,65.40 12.00,63.70 20.40,63.70" fill="#d42323"/><polygon points="62.00,55.80 62.00,65.30 60.30,65.30 63.40,70.90 66.50,65.30 64.80,65.30 64.80,55.80" fill="#d42323"/><polygon points="38.30,55.80 38.30,63.10 36.60,63.10 39.70,68.70 42.80,63.10 41.10,63.10 41.10,55.80" fill="#d42323"/><polygon points="24.50,80.90 31.90,80.90 31.90,82.60 37.50,79.50 31.90,76.40 31.90,78.10 24.50,78.10" fill="#d42323"/><polygon points="56.00,78.10 48.60,78.10 48.60,76.40 43.00,79.50 48.60,82.60 48.60,80.90 56.00,80.90" fill="#d42323"/></g>
<g transform="translate(408.20,223.40)"><clipPath id="clip4"><rect x="0" y="0" width="80" height="79.6"/></clipPath><rect x="0" y="0" width="80" height="79.6" fill="#fff"/><g clip-path="url(#clip4)"><circle cx="45.00" cy="41.50" r="6.00" fill="url(#cs2)"/><circle cx="36.80" cy="38.00" r="6.30" fill="url(#cs)"/><circle cx="38.60" cy="1.60" r="5.80" fill="url(#cs)"/><circle cx="41.80" cy="6.00" r="5.80" fill="url(#cs2)"/><circle cx="78.50" cy="43.50" r="6.00" fill="url(#cs2)"/><circle cx="76.10" cy="37.20" r="6.00" fill="url(#cs)"/><circle cx="4.50" cy="43.00" r="6.00" fill="url(#cs2)"/><circle cx="1.80" cy="36.00" r="6.00" fill="url(#cs)"/><circle cx="41.00" cy="78.50" r="6.00" fill="url(#cs2)"/><circle cx="37.60" cy="74.80" r="6.00" fill="url(#cs)"/><polygon points="0.80,15.50 23.70,1.00 22.80,17.00" fill="#54545a" stroke="#54545a" stroke-width="0.3" stroke-linejoin="round"/><polygon points="23.70,1.00 40.30,23.60 22.80,17.00" fill="#626268" stroke="#626268" stroke-width="0.3" stroke-linejoin="round"/><polygon points="40.30,23.60 16.10,39.60 22.80,17.00" fill="#4e4e54" stroke="#4e4e54" stroke-width="0.3" stroke-linejoin="round"/><polygon points="16.10,39.60 0.80,15.50 22.80,17.00" fill="#444449" stroke="#444449" stroke-width="0.3" stroke-linejoin="round"/><polygon points="23.70,1.00 40.30,23.60 16.10,39.60 0.80,15.50" fill="none" stroke="#3c3c40" stroke-width="0.5"/><polygon points="40.30,23.60 55.00,1.00 57.50,23.00" fill="#54545a" stroke="#54545a" stroke-width="0.3" stroke-linejoin="round"/><polygon points="55.00,1.00 79.20,17.20 57.50,23.00" fill="#626268" stroke="#626268" stroke-width="0.3" stroke-linejoin="round"/><polygon points="79.20,17.20 63.80,40.50 57.50,23.00" fill="#4e4e54" stroke="#4e4e54" stroke-width="0.3" stroke-linejoin="round"/><polygon points="63.80,40.50 40.30,23.60 57.50,23.00" fill="#444449" stroke="#444449" stroke-width="0.3" stroke-linejoin="round"/><polygon points="55.00,1.00 79.20,17.20 63.80,40.50 40.30,23.60" fill="none" stroke="#3c3c40" stroke-width="0.5"/><polygon points="1.20,62.50 16.10,39.60 17.80,61.50" fill="#54545a" stroke="#54545a" stroke-width="0.3" stroke-linejoin="round"/><polygon points="16.10,39.60 39.70,55.80 17.80,61.50" fill="#626268" stroke="#626268" stroke-width="0.3" stroke-linejoin="round"/><polygon points="39.70,55.80 25.20,78.80 17.80,61.50" fill="#4e4e54" stroke="#4e4e54" stroke-width="0.3" stroke-linejoin="round"/><polygon points="25.20,78.80 1.20,62.50 17.80,61.50" fill="#444449" stroke="#444449" stroke-width="0.3" stroke-linejoin="round"/><polygon points="16.10,39.60 39.70,55.80 25.20,78.80 1.20,62.50" fill="none" stroke="#3c3c40" stroke-width="0.5"/><polygon points="39.70,55.80 63.80,40.50 62.50,57.00" fill="#54545a" stroke="#54545a" stroke-width="0.3" stroke-linejoin="round"/><polygon points="63.80,40.50 79.50,63.80 62.50,57.00" fill="#626268" stroke="#626268" stroke-width="0.3" stroke-linejoin="round"/><polygon points="79.50,63.80 56.00,79.30 62.50,57.00" fill="#4e4e54" stroke="#4e4e54" stroke-width="0.3" stroke-linejoin="round"/><polygon points="56.00,79.30 39.70,55.80 62.50,57.00" fill="#444449" stroke="#444449" stroke-width="0.3" stroke-linejoin="round"/><polygon points="63.80,40.50 79.50,63.80 56.00,79.30 39.70,55.80" fill="none" stroke="#3c3c40" stroke-width="0.5"/><circle cx="23.70" cy="1.00" r="1.85" fill="url(#iat)"/><circle cx="40.30" cy="23.60" r="1.85" fill="url(#iat)"/><circle cx="16.10" cy="39.60" r="1.85" fill="url(#iat)"/><circle cx="0.80" cy="15.50" r="1.85" fill="url(#iat)"/><circle cx="22.80" cy="17.00" r="1.85" fill="url(#iat)"/><circle cx="55.00" cy="1.00" r="1.85" fill="url(#iat)"/><circle cx="79.20" cy="17.20" r="1.85" fill="url(#iat)"/><circle cx="63.80" cy="40.50" r="1.85" fill="url(#iat)"/><circle cx="57.50" cy="23.00" r="1.85" fill="url(#iat)"/><circle cx="39.70" cy="55.80" r="1.85" fill="url(#iat)"/><circle cx="25.20" cy="78.80" r="1.85" fill="url(#iat)"/><circle cx="1.20" cy="62.50" r="1.85" fill="url(#iat)"/><circle cx="17.80" cy="61.50" r="1.85" fill="url(#iat)"/><circle cx="79.50" cy="63.80" r="1.85" fill="url(#iat)"/><circle cx="56.00" cy="79.30" r="1.85" fill="url(#iat)"/><circle cx="62.50" cy="57.00" r="1.85" fill="url(#iat)"/></g><rect x="0" y="0" width="80" height="79.6" fill="none" stroke="#1a1a1a" stroke-width="1.2" stroke-dasharray="2.3 1.5"/><polygon points="57.00,1.30 57.00,-7.50 58.70,-7.50 55.60,-13.10 52.50,-7.50 54.20,-7.50 54.20,1.30" fill="#d42323"/><polygon points="2.60,13.00 -7.50,13.00 -7.50,11.30 -13.10,14.40 -7.50,17.50 -7.50,15.80 2.60,15.80" fill="#d42323"/><polygon points="22.20,1.30 22.20,8.80 20.50,8.80 23.60,14.40 26.70,8.80 25.00,8.80 25.00,1.30" fill="#d42323"/><polygon points="80.00,14.30 71.20,14.30 71.20,12.60 65.60,15.70 71.20,18.80 71.20,17.10 80.00,17.10" fill="#d42323"/><polygon points="40.70,25.00 49.50,25.00 49.50,26.70 55.10,23.60 49.50,20.50 49.50,22.20 40.70,22.20" fill="#d42323"/><polygon points="17.70,40.70 17.70,31.80 19.40,31.80 16.30,26.20 13.20,31.80 14.90,31.80 14.90,40.70" fill="#d42323"/><polygon points="62.90,38.00 62.90,48.20 61.20,48.20 64.30,53.80 67.40,48.20 65.70,48.20 65.70,38.00" fill="#d42323"/><polygon points="40.70,53.70 31.80,53.70 31.80,52.00 26.20,55.10 31.80,58.20 31.80,56.50 40.70,56.50" fill="#d42323"/><polygon points="15.70,61.60 5.60,61.60 5.60,59.90 0.00,63.00 5.60,66.10 5.60,64.40 15.70,64.40" fill="#d42323"/><polygon points="80.00,66.40 88.90,66.40 88.90,68.10 94.50,65.00 88.90,61.90 88.90,63.60 80.00,63.60" fill="#d42323"/><polygon points="24.30,78.70 24.30,86.90 22.60,86.90 25.70,92.50 28.80,86.90 27.10,86.90 27.10,78.70" fill="#d42323"/><polygon points="57.80,78.70 57.80,71.20 59.50,71.20 56.40,65.60 53.30,71.20 55.00,71.20 55.00,78.70" fill="#d42323"/></g>
<g transform="translate(174.20,325.00)"><clipPath id="clip5"><rect x="0" y="0" width="80" height="79.6"/></clipPath><rect x="0" y="0" width="80" height="79.6" fill="#fff"/><g clip-path="url(#clip5)"><circle cx="43.50" cy="40.00" r="6.30" fill="url(#cs2)"/><circle cx="41.50" cy="40.00" r="6.60" fill="url(#cs)"/><circle cx="38.50" cy="-0.50" r="7.00" fill="url(#cs)"/><circle cx="2.50" cy="1.50" r="4.50" fill="url(#cs)"/><circle cx="78.00" cy="1.50" r="4.50" fill="url(#cs)"/><circle cx="2.50" cy="40.00" r="6.00" fill="url(#cs)"/><circle cx="78.00" cy="40.00" r="6.00" fill="url(#cs)"/><circle cx="2.50" cy="78.50" r="4.50" fill="url(#cs)"/><circle cx="39.50" cy="79.50" r="6.50" fill="url(#cs)"/><circle cx="78.00" cy="78.50" r="4.50" fill="url(#cs)"/><polygon points="16.50,0.80 23.50,0.80 23.60,21.00" fill="#6c6c72" stroke="#6c6c72" stroke-width="0.3" stroke-linejoin="round"/><polygon points="23.50,0.80 39.60,20.20 23.60,21.00" fill="#646469" stroke="#646469" stroke-width="0.3" stroke-linejoin="round"/><polygon points="39.60,20.20 24.50,39.60 23.60,21.00" fill="#54545a" stroke="#54545a" stroke-width="0.3" stroke-linejoin="round"/><polygon points="24.50,39.60 16.50,39.60 23.60,21.00" fill="#4a4a50" stroke="#4a4a50" stroke-width="0.3" stroke-linejoin="round"/><polygon points="16.50,39.60 1.20,18.00 23.60,21.00" fill="#505056" stroke="#505056" stroke-width="0.3" stroke-linejoin="round"/><polygon points="1.20,18.00 16.50,0.80 23.60,21.00" fill="#6a6a70" stroke="#6a6a70" stroke-width="0.3" stroke-linejoin="round"/><polygon points="16.50,0.80 23.50,0.80 39.60,20.20 24.50,39.60 16.50,39.60 1.20,18.00" fill="none" stroke="#3a3a40" stroke-width="0.5"/><polygon points="56.50,0.80 63.50,0.80 56.00,17.00" fill="#6c6c72" stroke="#6c6c72" stroke-width="0.3" stroke-linejoin="round"/><polygon points="63.50,0.80 79.20,18.50 56.00,17.00" fill="#646469" stroke="#646469" stroke-width="0.3" stroke-linejoin="round"/><polygon points="79.20,18.50 63.50,39.60 56.00,17.00" fill="#54545a" stroke="#54545a" stroke-width="0.3" stroke-linejoin="round"/><polygon points="63.50,39.60 56.50,39.60 56.00,17.00" fill="#4a4a50" stroke="#4a4a50" stroke-width="0.3" stroke-linejoin="round"/><polygon points="56.50,39.60 41.00,20.20 56.00,17.00" fill="#505056" stroke="#505056" stroke-width="0.3" stroke-linejoin="round"/><polygon points="41.00,20.20 56.50,0.80 56.00,17.00" fill="#6a6a70" stroke="#6a6a70" stroke-width="0.3" stroke-linejoin="round"/><polygon points="56.50,0.80 63.50,0.80 79.20,18.50 63.50,39.60 56.50,39.60 41.00,20.20" fill="none" stroke="#3a3a40" stroke-width="0.5"/><polygon points="16.50,41.00 24.50,41.00 24.60,57.00" fill="#6c6c72" stroke="#6c6c72" stroke-width="0.3" stroke-linejoin="round"/><polygon points="24.50,41.00 39.60,59.50 24.60,57.00" fill="#646469" stroke="#646469" stroke-width="0.3" stroke-linejoin="round"/><polygon points="39.60,59.50 23.50,79.00 24.60,57.00" fill="#54545a" stroke="#54545a" stroke-width="0.3" stroke-linejoin="round"/><polygon points="23.50,79.00 16.50,79.00 24.60,57.00" fill="#4a4a50" stroke="#4a4a50" stroke-width="0.3" stroke-linejoin="round"/><polygon points="16.50,79.00 1.20,60.00 24.60,57.00" fill="#505056" stroke="#505056" stroke-width="0.3" stroke-linejoin="round"/><polygon points="1.20,60.00 16.50,41.00 24.60,57.00" fill="#6a6a70" stroke="#6a6a70" stroke-width="0.3" stroke-linejoin="round"/><polygon points="16.50,41.00 24.50,41.00 39.60,59.50 23.50,79.00 16.50,79.00 1.20,60.00" fill="none" stroke="#3a3a40" stroke-width="0.5"/><polygon points="56.50,41.00 63.50,41.00 55.00,62.50" fill="#6c6c72" stroke="#6c6c72" stroke-width="0.3" stroke-linejoin="round"/><polygon points="63.50,41.00 79.20,61.00 55.00,62.50" fill="#646469" stroke="#646469" stroke-width="0.3" stroke-linejoin="round"/><polygon points="79.20,61.00 63.50,79.00 55.00,62.50" fill="#54545a" stroke="#54545a" stroke-width="0.3" stroke-linejoin="round"/><polygon points="63.50,79.00 56.50,79.00 55.00,62.50" fill="#4a4a50" stroke="#4a4a50" stroke-width="0.3" stroke-linejoin="round"/><polygon points="56.50,79.00 41.00,59.50 55.00,62.50" fill="#505056" stroke="#505056" stroke-width="0.3" stroke-linejoin="round"/><polygon points="41.00,59.50 56.50,41.00 55.00,62.50" fill="#6a6a70" stroke="#6a6a70" stroke-width="0.3" stroke-linejoin="round"/><polygon points="56.50,41.00 63.50,41.00 79.20,61.00 63.50,79.00 56.50,79.00 41.00,59.50" fill="none" stroke="#3a3a40" stroke-width="0.5"/><circle cx="23.60" cy="21.00" r="1.85" fill="url(#iat)"/><circle cx="16.50" cy="0.80" r="1.50" fill="url(#iat)"/><circle cx="23.50" cy="0.80" r="1.50" fill="url(#iat)"/><circle cx="39.60" cy="20.20" r="1.50" fill="url(#iat)"/><circle cx="24.50" cy="39.60" r="1.50" fill="url(#iat)"/><circle cx="16.50" cy="39.60" r="1.50" fill="url(#iat)"/><circle cx="1.20" cy="18.00" r="1.50" fill="url(#iat)"/><circle cx="56.00" cy="17.00" r="1.85" fill="url(#iat)"/><circle cx="56.50" cy="0.80" r="1.50" fill="url(#iat)"/><circle cx="63.50" cy="0.80" r="1.50" fill="url(#iat)"/><circle cx="79.20" cy="18.50" r="1.50" fill="url(#iat)"/><circle cx="63.50" cy="39.60" r="1.50" fill="url(#iat)"/><circle cx="56.50" cy="39.60" r="1.50" fill="url(#iat)"/><circle cx="41.00" cy="20.20" r="1.50" fill="url(#iat)"/><circle cx="24.60" cy="57.00" r="1.85" fill="url(#iat)"/><circle cx="16.50" cy="41.00" r="1.50" fill="url(#iat)"/><circle cx="24.50" cy="41.00" r="1.50" fill="url(#iat)"/><circle cx="39.60" cy="59.50" r="1.50" fill="url(#iat)"/><circle cx="23.50" cy="79.00" r="1.50" fill="url(#iat)"/><circle cx="16.50" cy="79.00" r="1.50" fill="url(#iat)"/><circle cx="1.20" cy="60.00" r="1.50" fill="url(#iat)"/><circle cx="55.00" cy="62.50" r="1.85" fill="url(#iat)"/><circle cx="56.50" cy="41.00" r="1.50" fill="url(#iat)"/><circle cx="63.50" cy="41.00" r="1.50" fill="url(#iat)"/><circle cx="79.20" cy="61.00" r="1.50" fill="url(#iat)"/><circle cx="63.50" cy="79.00" r="1.50" fill="url(#iat)"/><circle cx="56.50" cy="79.00" r="1.50" fill="url(#iat)"/><circle cx="41.00" cy="59.50" r="1.50" fill="url(#iat)"/></g><rect x="0" y="0" width="80" height="79.6" fill="none" stroke="#1a1a1a" stroke-width="1.2" stroke-dasharray="2.3 1.5"/><polygon points="23.50,2.00 30.90,2.00 30.90,3.70 36.50,0.60 30.90,-2.50 30.90,-0.80 23.50,-0.80" fill="#d42323"/><polygon points="58.00,2.00 65.40,2.00 65.40,3.70 71.00,0.60 65.40,-2.50 65.40,-0.80 58.00,-0.80" fill="#d42323"/><polygon points="2.10,17.00 2.10,9.80 3.80,9.80 0.70,4.20 -2.40,9.80 -0.70,9.80 -0.70,17.00" fill="#d42323"/><polygon points="81.70,17.00 81.70,9.80 83.40,9.80 80.30,4.20 77.20,9.80 78.90,9.80 78.90,17.00" fill="#d42323"/><polygon points="39.30,22.50 39.30,29.80 37.60,29.80 40.70,35.40 43.80,29.80 42.10,29.80 42.10,22.50" fill="#d42323"/><polygon points="17.50,39.40 9.10,39.40 9.10,37.70 3.50,40.80 9.10,43.90 9.10,42.20 17.50,42.20" fill="#d42323"/><polygon points="64.70,39.40 56.40,39.40 56.40,37.70 50.80,40.80 56.40,43.90 56.40,42.20 64.70,42.20" fill="#d42323"/><polygon points="42.10,58.00 42.10,51.80 43.80,51.80 40.70,46.20 37.60,51.80 39.30,51.80 39.30,58.00" fill="#d42323"/><polygon points="-0.70,64.40 -0.70,70.60 -2.40,70.60 0.70,76.20 3.80,70.60 2.10,70.60 2.10,64.40" fill="#d42323"/><polygon points="78.90,64.40 78.90,70.60 77.20,70.60 80.30,76.20 83.40,70.60 81.70,70.60 81.70,64.40" fill="#d42323"/><polygon points="23.50,81.60 30.90,81.60 30.90,83.30 36.50,80.20 30.90,77.10 30.90,78.80 23.50,78.80" fill="#d42323"/><polygon points="58.00,81.60 65.40,81.60 65.40,83.30 71.00,80.20 65.40,77.10 65.40,78.80 58.00,78.80" fill="#d42323"/></g>
<g transform="translate(291.50,325.00)"><clipPath id="clip6"><rect x="0" y="0" width="80" height="79.6"/></clipPath><rect x="0" y="0" width="80" height="79.6" fill="#fff"/><g clip-path="url(#clip6)"><circle cx="43.50" cy="40.00" r="6.30" fill="url(#cs2)"/><circle cx="41.50" cy="40.00" r="6.60" fill="url(#cs)"/><circle cx="38.50" cy="-0.50" r="7.00" fill="url(#cs)"/><circle cx="2.50" cy="1.50" r="4.50" fill="url(#cs)"/><circle cx="78.00" cy="1.50" r="4.50" fill="url(#cs)"/><circle cx="2.50" cy="40.00" r="6.00" fill="url(#cs)"/><circle cx="78.00" cy="40.00" r="6.00" fill="url(#cs)"/><circle cx="2.50" cy="78.50" r="4.50" fill="url(#cs)"/><circle cx="39.50" cy="79.50" r="6.50" fill="url(#cs)"/><circle cx="78.00" cy="78.50" r="4.50" fill="url(#cs)"/><polygon points="16.50,0.80 23.50,0.80 23.60,21.00" fill="#6c6c72" stroke="#6c6c72" stroke-width="0.3" stroke-linejoin="round"/><polygon points="23.50,0.80 39.60,20.20 23.60,21.00" fill="#646469" stroke="#646469" stroke-width="0.3" stroke-linejoin="round"/><polygon points="39.60,20.20 24.50,39.60 23.60,21.00" fill="#54545a" stroke="#54545a" stroke-width="0.3" stroke-linejoin="round"/><polygon points="24.50,39.60 16.50,39.60 23.60,21.00" fill="#4a4a50" stroke="#4a4a50" stroke-width="0.3" stroke-linejoin="round"/><polygon points="16.50,39.60 1.20,18.00 23.60,21.00" fill="#505056" stroke="#505056" stroke-width="0.3" stroke-linejoin="round"/><polygon points="1.20,18.00 16.50,0.80 23.60,21.00" fill="#6a6a70" stroke="#6a6a70" stroke-width="0.3" stroke-linejoin="round"/><polygon points="16.50,0.80 23.50,0.80 39.60,20.20 24.50,39.60 16.50,39.60 1.20,18.00" fill="none" stroke="#3a3a40" stroke-width="0.5"/><polygon points="56.50,0.80 63.50,0.80 56.00,17.00" fill="#6c6c72" stroke="#6c6c72" stroke-width="0.3" stroke-linejoin="round"/><polygon points="63.50,0.80 79.20,18.50 56.00,17.00" fill="#646469" stroke="#646469" stroke-width="0.3" stroke-linejoin="round"/><polygon points="79.20,18.50 63.50,39.60 56.00,17.00" fill="#54545a" stroke="#54545a" stroke-width="0.3" stroke-linejoin="round"/><polygon points="63.50,39.60 56.50,39.60 56.00,17.00" fill="#4a4a50" stroke="#4a4a50" stroke-width="0.3" stroke-linejoin="round"/><polygon points="56.50,39.60 41.00,20.20 56.00,17.00" fill="#505056" stroke="#505056" stroke-width="0.3" stroke-linejoin="round"/><polygon points="41.00,20.20 56.50,0.80 56.00,17.00" fill="#6a6a70" stroke="#6a6a70" stroke-width="0.3" stroke-linejoin="round"/><polygon points="56.50,0.80 63.50,0.80 79.20,18.50 63.50,39.60 56.50,39.60 41.00,20.20" fill="none" stroke="#3a3a40" stroke-width="0.5"/><polygon points="16.50,41.00 24.50,41.00 24.60,57.00" fill="#6c6c72" stroke="#6c6c72" stroke-width="0.3" stroke-linejoin="round"/><polygon points="24.50,41.00 39.60,59.50 24.60,57.00" fill="#646469" stroke="#646469" stroke-width="0.3" stroke-linejoin="round"/><polygon points="39.60,59.50 23.50,79.00 24.60,57.00" fill="#54545a" stroke="#54545a" stroke-width="0.3" stroke-linejoin="round"/><polygon points="23.50,79.00 16.50,79.00 24.60,57.00" fill="#4a4a50" stroke="#4a4a50" stroke-width="0.3" stroke-linejoin="round"/><polygon points="16.50,79.00 1.20,60.00 24.60,57.00" fill="#505056" stroke="#505056" stroke-width="0.3" stroke-linejoin="round"/><polygon points="1.20,60.00 16.50,41.00 24.60,57.00" fill="#6a6a70" stroke="#6a6a70" stroke-width="0.3" stroke-linejoin="round"/><polygon points="16.50,41.00 24.50,41.00 39.60,59.50 23.50,79.00 16.50,79.00 1.20,60.00" fill="none" stroke="#3a3a40" stroke-width="0.5"/><polygon points="56.50,41.00 63.50,41.00 55.00,62.50" fill="#6c6c72" stroke="#6c6c72" stroke-width="0.3" stroke-linejoin="round"/><polygon points="63.50,41.00 79.20,61.00 55.00,62.50" fill="#646469" stroke="#646469" stroke-width="0.3" stroke-linejoin="round"/><polygon points="79.20,61.00 63.50,79.00 55.00,62.50" fill="#54545a" stroke="#54545a" stroke-width="0.3" stroke-linejoin="round"/><polygon points="63.50,79.00 56.50,79.00 55.00,62.50" fill="#4a4a50" stroke="#4a4a50" stroke-width="0.3" stroke-linejoin="round"/><polygon points="56.50,79.00 41.00,59.50 55.00,62.50" fill="#505056" stroke="#505056" stroke-width="0.3" stroke-linejoin="round"/><polygon points="41.00,59.50 56.50,41.00 55.00,62.50" fill="#6a6a70" stroke="#6a6a70" stroke-width="0.3" stroke-linejoin="round"/><polygon points="56.50,41.00 63.50,41.00 79.20,61.00 63.50,79.00 56.50,79.00 41.00,59.50" fill="none" stroke="#3a3a40" stroke-width="0.5"/><circle cx="23.60" cy="21.00" r="1.85" fill="url(#iat)"/><circle cx="16.50" cy="0.80" r="1.50" fill="url(#iat)"/><circle cx="23.50" cy="0.80" r="1.50" fill="url(#iat)"/><circle cx="39.60" cy="20.20" r="1.50" fill="url(#iat)"/><circle cx="24.50" cy="39.60" r="1.50" fill="url(#iat)"/><circle cx="16.50" cy="39.60" r="1.50" fill="url(#iat)"/><circle cx="1.20" cy="18.00" r="1.50" fill="url(#iat)"/><circle cx="56.00" cy="17.00" r="1.85" fill="url(#iat)"/><circle cx="56.50" cy="0.80" r="1.50" fill="url(#iat)"/><circle cx="63.50" cy="0.80" r="1.50" fill="url(#iat)"/><circle cx="79.20" cy="18.50" r="1.50" fill="url(#iat)"/><circle cx="63.50" cy="39.60" r="1.50" fill="url(#iat)"/><circle cx="56.50" cy="39.60" r="1.50" fill="url(#iat)"/><circle cx="41.00" cy="20.20" r="1.50" fill="url(#iat)"/><circle cx="24.60" cy="57.00" r="1.85" fill="url(#iat)"/><circle cx="16.50" cy="41.00" r="1.50" fill="url(#iat)"/><circle cx="24.50" cy="41.00" r="1.50" fill="url(#iat)"/><circle cx="39.60" cy="59.50" r="1.50" fill="url(#iat)"/><circle cx="23.50" cy="79.00" r="1.50" fill="url(#iat)"/><circle cx="16.50" cy="79.00" r="1.50" fill="url(#iat)"/><circle cx="1.20" cy="60.00" r="1.50" fill="url(#iat)"/><circle cx="55.00" cy="62.50" r="1.85" fill="url(#iat)"/><circle cx="56.50" cy="41.00" r="1.50" fill="url(#iat)"/><circle cx="63.50" cy="41.00" r="1.50" fill="url(#iat)"/><circle cx="79.20" cy="61.00" r="1.50" fill="url(#iat)"/><circle cx="63.50" cy="79.00" r="1.50" fill="url(#iat)"/><circle cx="56.50" cy="79.00" r="1.50" fill="url(#iat)"/><circle cx="41.00" cy="59.50" r="1.50" fill="url(#iat)"/></g><rect x="0" y="0" width="80" height="79.6" fill="none" stroke="#1a1a1a" stroke-width="1.2" stroke-dasharray="2.3 1.5"/><polygon points="41.50,23.60 41.50,14.50 43.20,14.50 40.10,8.90 37.00,14.50 38.70,14.50 38.70,23.60" fill="#d42323"/><polygon points="38.70,56.30 38.70,65.40 37.00,65.40 40.10,71.00 43.20,65.40 41.50,65.40 41.50,56.30" fill="#d42323"/><polygon points="-0.60,17.00 -0.60,25.40 -2.30,25.40 0.80,31.00 3.90,25.40 2.20,25.40 2.20,17.00" fill="#d42323"/><polygon points="78.10,17.00 78.10,25.40 76.40,25.40 79.50,31.00 82.60,25.40 80.90,25.40 80.90,17.00" fill="#d42323"/><polygon points="2.20,63.00 2.20,54.60 3.90,54.60 0.80,49.00 -2.30,54.60 -0.60,54.60 -0.60,63.00" fill="#d42323"/><polygon points="80.90,63.00 80.90,54.60 82.60,54.60 79.50,49.00 76.40,54.60 78.10,54.60 78.10,63.00" fill="#d42323"/></g>
<g transform="translate(408.50,325.40)"><clipPath id="clip7"><rect x="0" y="0" width="80" height="79.6"/></clipPath><rect x="0" y="0" width="80" height="79.6" fill="#fff"/><g clip-path="url(#clip7)"><circle cx="43.50" cy="40.00" r="6.30" fill="url(#cs2)"/><circle cx="41.50" cy="40.00" r="6.60" fill="url(#cs)"/><circle cx="38.50" cy="-0.50" r="7.00" fill="url(#cs)"/><circle cx="2.50" cy="1.50" r="4.50" fill="url(#cs)"/><circle cx="78.00" cy="1.50" r="4.50" fill="url(#cs)"/><circle cx="2.50" cy="40.00" r="6.00" fill="url(#cs)"/><circle cx="78.00" cy="40.00" r="6.00" fill="url(#cs)"/><circle cx="2.50" cy="78.50" r="4.50" fill="url(#cs)"/><circle cx="39.50" cy="79.50" r="6.50" fill="url(#cs)"/><circle cx="78.00" cy="78.50" r="4.50" fill="url(#cs)"/><polygon points="16.50,0.80 23.50,0.80 23.60,21.00" fill="#6c6c72" stroke="#6c6c72" stroke-width="0.3" stroke-linejoin="round"/><polygon points="23.50,0.80 39.60,20.20 23.60,21.00" fill="#646469" stroke="#646469" stroke-width="0.3" stroke-linejoin="round"/><polygon points="39.60,20.20 24.50,39.60 23.60,21.00" fill="#54545a" stroke="#54545a" stroke-width="0.3" stroke-linejoin="round"/><polygon points="24.50,39.60 16.50,39.60 23.60,21.00" fill="#4a4a50" stroke="#4a4a50" stroke-width="0.3" stroke-linejoin="round"/><polygon points="16.50,39.60 1.20,18.00 23.60,21.00" fill="#505056" stroke="#505056" stroke-width="0.3" stroke-linejoin="round"/><polygon points="1.20,18.00 16.50,0.80 23.60,21.00" fill="#6a6a70" stroke="#6a6a70" stroke-width="0.3" stroke-linejoin="round"/><polygon points="16.50,0.80 23.50,0.80 39.60,20.20 24.50,39.60 16.50,39.60 1.20,18.00" fill="none" stroke="#3a3a40" stroke-width="0.5"/><polygon points="56.50,0.80 63.50,0.80 56.00,17.00" fill="#6c6c72" stroke="#6c6c72" stroke-width="0.3" stroke-linejoin="round"/><polygon points="63.50,0.80 79.20,18.50 56.00,17.00" fill="#646469" stroke="#646469" stroke-width="0.3" stroke-linejoin="round"/><polygon points="79.20,18.50 63.50,39.60 56.00,17.00" fill="#54545a" stroke="#54545a" stroke-width="0.3" stroke-linejoin="round"/><polygon points="63.50,39.60 56.50,39.60 56.00,17.00" fill="#4a4a50" stroke="#4a4a50" stroke-width="0.3" stroke-linejoin="round"/><polygon points="56.50,39.60 41.00,20.20 56.00,17.00" fill="#505056" stroke="#505056" stroke-width="0.3" stroke-linejoin="round"/><polygon points="41.00,20.20 56.50,0.80 56.00,17.00" fill="#6a6a70" stroke="#6a6a70" stroke-width="0.3" stroke-linejoin="round"/><polygon points="56.50,0.80 63.50,0.80 79.20,18.50 63.50,39.60 56.50,39.60 41.00,20.20" fill="none" stroke="#3a3a40" stroke-width="0.5"/><polygon points="16.50,41.00 24.50,41.00 24.60,57.00" fill="#6c6c72" stroke="#6c6c72" stroke-width="0.3" stroke-linejoin="round"/><polygon points="24.50,41.00 39.60,59.50 24.60,57.00" fill="#646469" stroke="#646469" stroke-width="0.3" stroke-linejoin="round"/><polygon points="39.60,59.50 23.50,79.00 24.60,57.00" fill="#54545a" stroke="#54545a" stroke-width="0.3" stroke-linejoin="round"/><polygon points="23.50,79.00 16.50,79.00 24.60,57.00" fill="#4a4a50" stroke="#4a4a50" stroke-width="0.3" stroke-linejoin="round"/><polygon points="16.50,79.00 1.20,60.00 24.60,57.00" fill="#505056" stroke="#505056" stroke-width="0.3" stroke-linejoin="round"/><polygon points="1.20,60.00 16.50,41.00 24.60,57.00" fill="#6a6a70" stroke="#6a6a70" stroke-width="0.3" stroke-linejoin="round"/><polygon points="16.50,41.00 24.50,41.00 39.60,59.50 23.50,79.00 16.50,79.00 1.20,60.00" fill="none" stroke="#3a3a40" stroke-width="0.5"/><polygon points="56.50,41.00 63.50,41.00 55.00,62.50" fill="#6c6c72" stroke="#6c6c72" stroke-width="0.3" stroke-linejoin="round"/><polygon points="63.50,41.00 79.20,61.00 55.00,62.50" fill="#646469" stroke="#646469" stroke-width="0.3" stroke-linejoin="round"/><polygon points="79.20,61.00 63.50,79.00 55.00,62.50" fill="#54545a" stroke="#54545a" stroke-width="0.3" stroke-linejoin="round"/><polygon points="63.50,79.00 56.50,79.00 55.00,62.50" fill="#4a4a50" stroke="#4a4a50" stroke-width="0.3" stroke-linejoin="round"/><polygon points="56.50,79.00 41.00,59.50 55.00,62.50" fill="#505056" stroke="#505056" stroke-width="0.3" stroke-linejoin="round"/><polygon points="41.00,59.50 56.50,41.00 55.00,62.50" fill="#6a6a70" stroke="#6a6a70" stroke-width="0.3" stroke-linejoin="round"/><polygon points="56.50,41.00 63.50,41.00 79.20,61.00 63.50,79.00 56.50,79.00 41.00,59.50" fill="none" stroke="#3a3a40" stroke-width="0.5"/><circle cx="23.60" cy="21.00" r="1.85" fill="url(#iat)"/><circle cx="16.50" cy="0.80" r="1.50" fill="url(#iat)"/><circle cx="23.50" cy="0.80" r="1.50" fill="url(#iat)"/><circle cx="39.60" cy="20.20" r="1.50" fill="url(#iat)"/><circle cx="24.50" cy="39.60" r="1.50" fill="url(#iat)"/><circle cx="16.50" cy="39.60" r="1.50" fill="url(#iat)"/><circle cx="1.20" cy="18.00" r="1.50" fill="url(#iat)"/><circle cx="56.00" cy="17.00" r="1.85" fill="url(#iat)"/><circle cx="56.50" cy="0.80" r="1.50" fill="url(#iat)"/><circle cx="63.50" cy="0.80" r="1.50" fill="url(#iat)"/><circle cx="79.20" cy="18.50" r="1.50" fill="url(#iat)"/><circle cx="63.50" cy="39.60" r="1.50" fill="url(#iat)"/><circle cx="56.50" cy="39.60" r="1.50" fill="url(#iat)"/><circle cx="41.00" cy="20.20" r="1.50" fill="url(#iat)"/><circle cx="24.60" cy="57.00" r="1.85" fill="url(#iat)"/><circle cx="16.50" cy="41.00" r="1.50" fill="url(#iat)"/><circle cx="24.50" cy="41.00" r="1.50" fill="url(#iat)"/><circle cx="39.60" cy="59.50" r="1.50" fill="url(#iat)"/><circle cx="23.50" cy="79.00" r="1.50" fill="url(#iat)"/><circle cx="16.50" cy="79.00" r="1.50" fill="url(#iat)"/><circle cx="1.20" cy="60.00" r="1.50" fill="url(#iat)"/><circle cx="55.00" cy="62.50" r="1.85" fill="url(#iat)"/><circle cx="56.50" cy="41.00" r="1.50" fill="url(#iat)"/><circle cx="63.50" cy="41.00" r="1.50" fill="url(#iat)"/><circle cx="79.20" cy="61.00" r="1.50" fill="url(#iat)"/><circle cx="63.50" cy="79.00" r="1.50" fill="url(#iat)"/><circle cx="56.50" cy="79.00" r="1.50" fill="url(#iat)"/><circle cx="41.00" cy="59.50" r="1.50" fill="url(#iat)"/></g><rect x="0" y="0" width="80" height="79.6" fill="none" stroke="#1a1a1a" stroke-width="1.2" stroke-dasharray="2.3 1.5"/><polygon points="14.30,14.80 6.80,14.80 6.80,13.10 1.20,16.20 6.80,19.30 6.80,17.60 14.30,17.60" fill="#d42323"/><polygon points="39.10,20.80 29.20,20.80 29.20,19.10 23.60,22.20 29.20,25.30 29.20,23.60 39.10,23.60" fill="#d42323"/><polygon points="81.00,17.60 86.40,17.60 86.40,19.30 92.00,16.20 86.40,13.10 86.40,14.80 81.00,14.80" fill="#d42323"/><polygon points="14.30,60.20 6.80,60.20 6.80,58.50 1.20,61.60 6.80,64.70 6.80,63.00 14.30,63.00" fill="#d42323"/><polygon points="39.10,54.20 29.20,54.20 29.20,52.50 23.60,55.60 29.20,58.70 29.20,57.00 39.10,57.00" fill="#d42323"/><polygon points="81.00,63.00 86.40,63.00 86.40,64.70 92.00,61.60 86.40,58.50 86.40,60.20 81.00,60.20" fill="#d42323"/></g>
</svg></body></html>
